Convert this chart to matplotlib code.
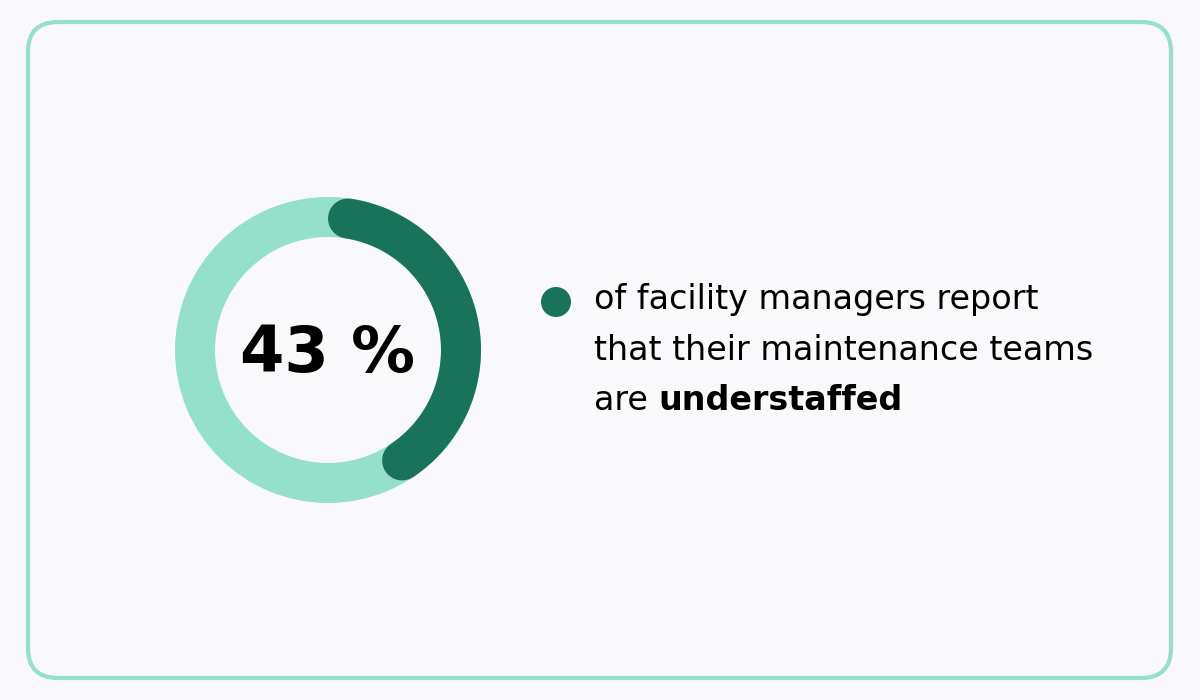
import numpy as np
import matplotlib.pyplot as plt
from matplotlib.patches import FancyBboxPatch, Circle, Wedge

plt.rcParams['font.family'] = ['DejaVu Sans']

# data
share = 43
label_lines = ['of facility managers report', 'that their maintenance teams', 'are ']
label_bold = 'understaffed'

dark = '#18735A'
light = '#94E0CA'
bg = '#F9F9FB'

fig = plt.figure(figsize=(12, 7), dpi=100)
fig.patch.set_facecolor(bg)
ax = fig.add_axes([0, 0, 1, 1])
ax.set_xlim(0, 1200)
ax.set_ylim(700, 0)
ax.set_aspect('equal')
ax.axis('off')

# card border
ax.add_patch(FancyBboxPatch((28, 22), 1143, 656,
                            boxstyle='round,pad=0,rounding_size=30',
                            fc=bg, ec=light, lw=3))

# donut
cx, cy = 328, 350
r_out, width = 153, 40
r_mid = r_out - width / 2
ax.add_patch(Wedge((cx, cy), r_out, 0, 360, width=width, fc=light, ec='none'))

# dark arc with rounded caps, total visual extent = share of the circle
sweep = share / 100 * 360
cap = np.degrees(np.arcsin((width / 2) / r_mid))
ang = np.radians(np.linspace(90 - cap, 90 - sweep + cap, 200))
lw_pt = width * 72 / fig.dpi
ax.plot(cx + r_mid * np.cos(ang), cy - r_mid * np.sin(ang),
        color=dark, lw=lw_pt, solid_capstyle='round')

ax.text(cx, cy + 4, f'{share} %', ha='center', va='center',
        fontsize=46, fontweight='bold', color='black')

# legend dot + text
ax.add_patch(Circle((556, 302), 15, fc=dark, ec='none'))
tx, ty, step = 594, 300, 50
for i, line in enumerate(label_lines):
    t = ax.text(tx, ty + i * step, line, ha='left', va='center',
                fontsize=24, color='black')
fig.canvas.draw()
bb = t.get_window_extent(renderer=fig.canvas.get_renderer())
x_end = ax.transData.inverted().transform((bb.x1, bb.y0))[0]
ax.text(x_end, ty + 2 * step, label_bold, ha='left', va='center',
        fontsize=24, fontweight='bold', color='black')

fig.savefig('out.png', dpi=100, facecolor=bg)
